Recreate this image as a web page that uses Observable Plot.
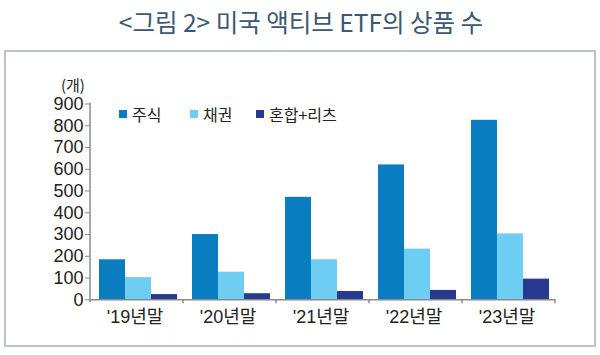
<!DOCTYPE html>
<html>
<head>
<meta charset="utf-8">
<script src="https://cdn.jsdelivr.net/npm/d3@7"></script>
<script src="https://cdn.jsdelivr.net/npm/@observablehq/plot@0.6"></script>
<style>
  html, body { margin: 0; padding: 0; background: #fff; }
  #wrap { position: relative; width: 600px; height: 355px; overflow: hidden; background: #fff;
          font-family: "Liberation Sans", "Noto Sans CJK KR", sans-serif; }
  #title { position: absolute; left: 0; top: 4px; width: 602px; text-align: center;
           font-family: "Noto Sans CJK KR", sans-serif; font-size: 24.5px; color: #3b5874; font-weight: 400; }
  #frame { position: absolute; left: 4px; top: 50px; width: 588px; height: 293px;
           border: 2px solid #bcc2d6; }
  #chart { position: absolute; left: 0; top: 0; }
  #unit { position: absolute; left: 61px; top: 74px; font-family: "Noto Sans CJK KR", sans-serif;
          font-size: 15px; color: #222; }
  .leg { position: absolute; top: 102px; font-family: "Noto Sans CJK KR", sans-serif; font-size: 16px;
         color: #222; display: flex; align-items: center; }
  .leg i { display: inline-block; width: 8px; height: 8px; margin-right: 5px; }
</style>
</head>
<body>
<div id="wrap">
  <div id="title">&lt;그림 2&gt; 미국 액티브 ETF의 상품 수</div>
  <div id="frame"></div>
  <div id="chart"></div>
  <div id="unit">(개)</div>
  <div id="legend"></div>
</div>
<script>
const years = ["'19년말", "'20년말", "'21년말", "'22년말", "'23년말"];
const seriesNames = ["주식", "채권", "혼합+리츠"];
const stock = [184, 300, 471, 620, 825];
const bond = [102, 127, 184, 233, 303];
const mixed = [24, 28, 38, 43, 95];
const yTicks = [0, 100, 200, 300, 400, 500, 600, 700, 800, 900];
const colors = ["#0a7cc0", "#6dcdf3", "#283a8f"];

const values = [stock, bond, mixed];
const data = [];
years.forEach((yr, i) => {
  seriesNames.forEach((s, j) => data.push({year: yr, series: s, value: values[j][i]}));
});

const plot = Plot.plot({
  width: 600,
  height: 355,
  marginTop: 103.5,
  marginBottom: 55.7,
  marginLeft: 88,
  marginRight: 42.3,
  style: {fontFamily: "'Liberation Sans', 'Noto Sans CJK KR', sans-serif", fontSize: "17px", color: "#222", background: "transparent"},
  fx: {domain: years, padding: 0, label: null},
  x: {domain: seriesNames, padding: 0, insetLeft: 9, insetRight: 6, axis: null},
  y: {domain: [0, 900], label: null},
  color: {domain: seriesNames, range: colors},
  marks: [
    Plot.barY(data, {fx: "year", x: "series", y: "value", fill: "series"}),
    Plot.ruleY([0], {stroke: "#8a8a8a", strokeWidth: 1.5}),
    Plot.axisY(yTicks, {tickSize: 5, tickPadding: 2, stroke: "#8a8a8a", fill: "#222", fontSize: 18, label: null}),
    Plot.axisFx({anchor: "bottom", tickSize: 0, tickPadding: 10, fill: "#222", fontSize: 18, label: null, dx: -2,
                 fontFamily: "'Liberation Sans', 'Noto Sans CJK KR', sans-serif"})
  ]
});
document.getElementById("chart").appendChild(plot);

// y-axis line and band-boundary ticks from the plot's own scales
const fx = plot.scale("fx");
const y = plot.scale("y");
const svg = d3.select(plot);
const x0 = fx.apply(years[0]);
svg.append("line").attr("x1", x0).attr("x2", x0)
  .attr("y1", y.apply(900) - 1).attr("y2", y.apply(0) + 3)
  .attr("stroke", "#8a8a8a").attr("stroke-width", 1.5);
const bounds = years.map(d => fx.apply(d)).slice(1);
bounds.push(fx.apply(years[years.length - 1]) + fx.bandwidth);
svg.selectAll(null).data(bounds).join("line")
  .attr("x1", d => d).attr("x2", d => d)
  .attr("y1", y.apply(0)).attr("y2", y.apply(0) + 4)
  .attr("stroke", "#8a8a8a").attr("stroke-width", 1.5);

// legend
const legendPos = [119, 190, 256];
const lg = document.getElementById("legend");
seriesNames.forEach((s, j) => {
  const el = document.createElement("div");
  el.className = "leg";
  el.style.left = legendPos[j] + "px";
  el.innerHTML = `<i style="background:${colors[j]}"></i>${s}`;
  lg.appendChild(el);
});
</script>
</body>
</html>
